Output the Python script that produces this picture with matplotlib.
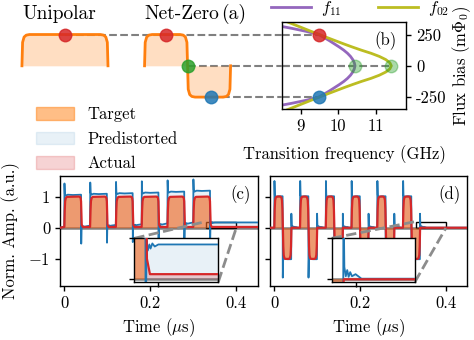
import numpy as np
import matplotlib
matplotlib.use("Agg")
import matplotlib.pyplot as plt
from matplotlib.patches import Patch
from mpl_toolkits.axes_grid1.inset_locator import mark_inset

plt.rcParams["font.family"] = "cmr10"
plt.rcParams["mathtext.fontset"] = "cm"
plt.rcParams["axes.formatter.use_mathtext"] = True
plt.rcParams["font.size"] = 12
plt.rcParams["axes.linewidth"] = 1.0
plt.rcParams["xtick.major.width"] = 1.0
plt.rcParams["ytick.major.width"] = 1.0
plt.rcParams["xtick.major.size"] = 3.5
plt.rcParams["ytick.major.size"] = 3.5

# ---- (a) schematic pulses (time in ns, amplitude normalised) ----
uni_t = [0, 0.3, 1, 2, 3.5, 36.5, 38, 39, 39.7, 40]
uni_y = [0, 0.75, 0.92, 0.98, 1, 1, 0.98, 0.92, 0.75, 0]
nz_t = [57, 57.3, 58, 59, 60.5, 73.5, 75, 76, 76.7, 77,
        77.3, 78, 79, 80.5, 93.5, 95, 96, 96.7, 97]
nz_y = [0, 0.75, 0.92, 0.98, 1, 1, 0.98, 0.92, 0.75, 0,
        -0.75, -0.92, -0.98, -1, -1, -0.98, -0.92, -0.75, 0]
dot_t = [20, 67, 77, 88]
dot_amp = [1, 1, 0, -1]
dot_cols = ["tab:red", "tab:red", "tab:green", "tab:blue"]

# ---- (b) transition frequencies vs flux ----
flux = [-350, -325, -300, -275, -250, -225, -200, -175, -150, -125, -100, -75, -50, -25,
        0, 25, 50, 75, 100, 125, 150, 175, 200, 225, 250, 275, 300, 325, 350]
f11 = [7.8, 8.3, 8.75, 9.15, 9.48, 9.63, 9.77, 9.9, 10.03, 10.15, 10.25, 10.33, 10.39, 10.43,
       10.45, 10.43, 10.39, 10.33, 10.25, 10.15, 10.03, 9.9, 9.77, 9.63, 9.48, 9.15, 8.75, 8.3, 7.8]
f02 = [8.65, 8.86, 9.07, 9.28, 9.5, 9.71, 9.93, 10.15, 10.38, 10.62, 10.88, 11.1, 11.27, 11.38,
       11.42, 11.38, 11.27, 11.1, 10.88, 10.62, 10.38, 10.15, 9.93, 9.71, 9.5, 9.28, 9.07, 8.86, 8.65]
b_dot_f = [9.5, 10.45, 11.42, 9.5]
b_dot_flux = [250, 0, 0, -250]
b_dot_cols = ["tab:red", "tab:green", "tab:green", "tab:blue"]
b_dot_alpha = [0.85, 0.4, 0.4, 0.85]

# ---- (c) unipolar pulse train (time in us) ----
starts = [0.0, 0.06, 0.12, 0.18, 0.24, 0.30]
tgt_c_t = [0.0, 0.0012, 0.0025, 0.0375, 0.0388, 0.04]
tgt_c_y = [0.0, 0.9, 1.0, 1.0, 0.9, 0.0]
act_c_t = [0.0, 0.001, 0.002, 0.0035, 0.006, 0.034, 0.0365, 0.038, 0.039, 0.0405, 0.043]
act_c_y = [0.025, 0.55, 0.85, 0.95, 0.99, 1.0, 0.99, 0.95, 0.85, 0.1, 0.025]
pred_c_t = [0.0, 0.0004, 0.0012, 0.003, 0.008, 0.02, 0.039, 0.0394, 0.0402, 0.0412,
            0.0425, 0.0435, 0.045, 0.047, 0.05]
pred_c_y = [0.0, 1.38, 1.05, 0.99, 1.02, 1.01, 1.02, -0.55, 0.02, -0.03,
            0.0, -0.02, 0.005, -0.01, 0.0]
pred_c_drift = [0.04, 0.07, 0.09, 0.11, 0.14, 0.17]

# ---- (d) net-zero pulse train ----
tgt_d_t = [0.0, 0.0012, 0.0025, 0.0175, 0.0188, 0.02, 0.0212, 0.0225, 0.0375, 0.0388, 0.04]
tgt_d_y = [0.0, 0.9, 1.0, 1.0, 0.9, 0.0, -0.9, -1.0, -1.0, -0.9, 0.0]
act_d_t = [0.0, 0.001, 0.002, 0.0035, 0.006, 0.014, 0.0165, 0.018, 0.019, 0.02,
           0.021, 0.022, 0.0235, 0.026, 0.034, 0.0365, 0.038, 0.039, 0.04]
act_d_y = [0.0, 0.6, 0.88, 0.97, 1.0, 1.0, 0.97, 0.88, 0.6, 0.0,
           -0.6, -0.88, -0.97, -1.0, -1.0, -0.97, -0.88, -0.6, 0.0]
pred_d_t = [0.0, 0.0004, 0.0012, 0.003, 0.01, 0.0194, 0.0198, 0.0206, 0.0215, 0.03,
            0.0394, 0.0398, 0.0406, 0.0418, 0.043, 0.0442, 0.0455, 0.047, 0.05, 0.055]
pred_d_y = [0.0, 1.5, 1.05, 0.99, 1.01, 1.01, -1.6, -1.05, -0.99, -1.01,
            -1.01, 0.45, 0.06, 0.015, 0.045, 0.012, 0.035, 0.015, 0.025, 0.003]

t_lo, t_hi = -0.01, 0.45


def train(t_shape, y_shape, offsets=None, y_end=0.0):
    t = [t_lo]
    y = [0.0]
    for k, s in enumerate(starts):
        off = 0.0 if offsets is None else offsets[k]
        t += [s + v for v in t_shape]
        y += [v + off for v in y_shape]
    t.append(t_hi)
    y.append(y_end)
    return np.array(t), np.array(y)


def draw_traces(ax, tg, ac, pr):
    ax.axhline(0, color="0.5", lw=1.8, zorder=1)
    ax.fill_between(pr[0], pr[1], 0, color="tab:blue", alpha=0.1, lw=0, zorder=1.5)
    ax.fill_between(tg[0], tg[1], 0, color="tab:orange", alpha=0.5, lw=0, zorder=2)
    ax.fill_between(ac[0], ac[1], 0, color="tab:red", alpha=0.2, lw=0, zorder=2.5)
    ax.plot(pr[0], pr[1], color="tab:blue", lw=1.3, zorder=3)
    ax.plot(ac[0], ac[1], color="tab:red", lw=1.6, zorder=3.5)


fig = plt.figure(figsize=(4.74, 3.4), dpi=100)
W, H = 474.0, 340.0

# panel (b)
ax_b = fig.add_axes([282 / W, 1 - 109 / H, 124.3 / W, 87 / H])
ax_b.plot(f11, flux, color="tab:purple", lw=2, label="$f_{11}$", zorder=2)
ax_b.plot(f02, flux, color="tab:olive", lw=2, label="$f_{02}$", zorder=2)
for x, y, c, a in zip(b_dot_f, b_dot_flux, b_dot_cols, b_dot_alpha):
    ax_b.plot([8.5, x], [y, y], ls="--", color="0.5", lw=1.5, zorder=1)
    ax_b.plot(x, y, "o", ms=9, color=c, alpha=a, zorder=4)
ax_b.set_xlim(8.5, 11.82)
ax_b.set_ylim(-345, 350)
ax_b.set_xticks([9, 10, 11])
ax_b.set_xticklabels(["9", "10", "11"])
ax_b.set_yticks([-250, 0, 250])
ax_b.set_yticklabels(["-250", "0", "250"])
ax_b.yaxis.tick_right()
ax_b.yaxis.set_label_position("right")
ax_b.set_ylabel(r"Flux bias (m$\Phi_0$)", labelpad=3)
ax_b.set_xlabel("Transition frequency (GHz)", labelpad=8)
ax_b.text(0.92, 0.78, "(b)", transform=ax_b.transAxes, ha="right", va="center")
ax_b.legend(loc="lower center", bbox_to_anchor=(0.63, 0.95), ncol=2, frameon=False,
            handlelength=2.4, columnspacing=2.2, borderpad=0, handletextpad=0.6)

# panel (a)
ax_a = fig.add_axes([0, 1 - 109 / H, 282 / W, 87 / H])
ax_a.set_xlim(-10.2, 120.9)
ax_a.set_ylim(-345 / 250, 350 / 250)
ax_a.axis("off")
for tt, yy in [(uni_t, uni_y), (nz_t, nz_y)]:
    ax_a.fill_between(tt, yy, 0, color="tab:orange", alpha=0.25, lw=0, zorder=2)
    ax_a.plot(tt, yy, color="tab:orange", lw=2, zorder=2.5)
for k in [0, 2, 3]:
    ax_a.plot([dot_t[k], 120.9], [dot_amp[k]] * 2, ls="--", color="0.5", lw=1.5, zorder=1)
for x, y, c in zip(dot_t, dot_amp, dot_cols):
    ax_a.plot(x, y, "o", ms=9, color=c, alpha=0.85, zorder=4)
ax_a.text(uni_t[0], 1.65, "Unipolar", fontsize=14, ha="left", va="center")
ax_a.text(nz_t[0], 1.65, "Net-Zero", fontsize=14, ha="left", va="center")
ax_a.text(92.5, 1.65, "(a)", fontsize=14, ha="left", va="center")

handles = [Patch(facecolor="tab:orange", edgecolor="tab:orange", alpha=0.5, label="Target"),
           Patch(facecolor="tab:blue", edgecolor="tab:blue", alpha=0.1, label="Predistorted"),
           Patch(facecolor="tab:red", edgecolor="tab:red", alpha=0.2, label="Actual")]
fig.legend(handles=handles, loc="upper left", bbox_to_anchor=(36 / W, 1 - 107 / H),
           frameon=False, borderpad=0, borderaxespad=0, handlelength=2.3,
           handleheight=0.8, labelspacing=0.55, handletextpad=0.8)

# panels (c) and (d)
panels = [
    ([60 / W, 1 - 285.7 / H, 197.7 / W, 109.7 / H], tgt_c_t, tgt_c_y, act_c_t, act_c_y,
     pred_c_t, pred_c_y, pred_c_drift, 0.025, [0.376, 0.036, 0.425, 0.396], "(c)", True),
    ([270 / W, 1 - 285.7 / H, 197.3 / W, 109.7 / H], tgt_d_t, tgt_d_y, act_d_t, act_d_y,
     pred_d_t, pred_d_y, None, 0.0, [0.313, 0.036, 0.422, 0.396], "(d)", False),
]
for pos, tt, ty, at, ay, pt, py, drift, a_end, ins_pos, lab, first in panels:
    ax = fig.add_axes(pos)
    tg = train(tt, ty)
    ac = train(at, ay, y_end=a_end)
    pr = train(pt, py, drift, y_end=drift[-1] if drift else 0.003)
    draw_traces(ax, tg, ac, pr)
    ax.set_xlim(t_lo, t_hi)
    ax.set_ylim(-1.86, 1.66)
    ax.set_xticks([0, 0.2, 0.4])
    ax.set_xticklabels(["0", "0.2", "0.4"])
    ax.set_yticks([-1, 0, 1])
    if first:
        ax.set_yticklabels(["$-1$", "0", "1"])
        ax.set_ylabel("Norm. Amp. (a.u.)", labelpad=6)
    else:
        ax.set_yticklabels([])
    ax.set_xlabel(r"Time ($\mu$s)")
    ax.text(0.965, 0.83, lab, transform=ax.transAxes, ha="right", va="center")

    axins = ax.inset_axes(ins_pos)
    draw_traces(axins, tg, ac, pr)
    axins.set_xlim(0.33, 0.40)
    axins.set_ylim(-0.012, 0.2)
    axins.set_xticks([0.35])
    axins.set_yticks([0, 0.2])
    axins.set_xticklabels([])
    axins.set_yticklabels([])
    rect, p1, p2 = mark_inset(ax, axins, loc1=2, loc2=4, fc="none", ec="k", lw=1.0)
    for p in (p1, p2):
        p.set_edgecolor("0.55")
        p.set_linestyle("--")
        p.set_linewidth(2)

fig.savefig("out.png", dpi=100)
